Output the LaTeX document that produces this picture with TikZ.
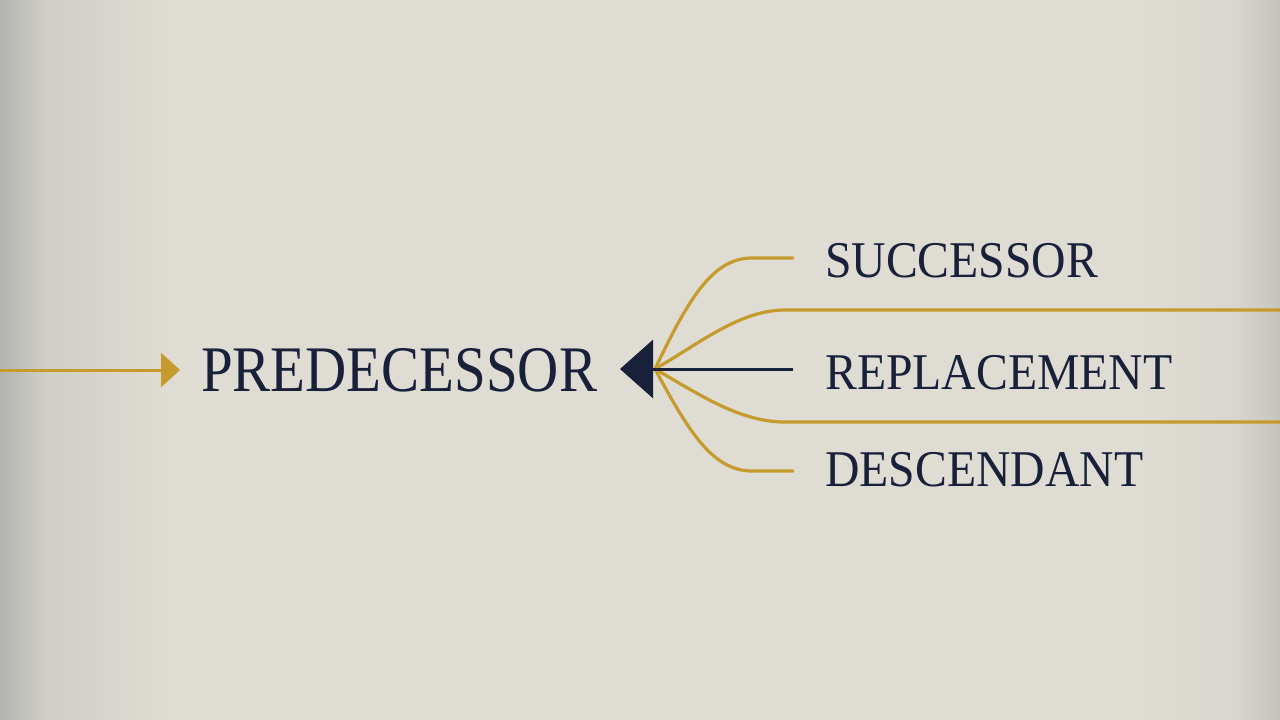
\documentclass[tikz,border=0pt]{standalone}
\usepackage{fontspec}
\setmainfont{Liberation Serif}
\usetikzlibrary{arrows.meta}
\definecolor{bgc}{HTML}{DFDCD3}
\definecolor{edgec}{HTML}{B3B4B0}
\definecolor{midl}{HTML}{CFCEC7}
\definecolor{edger}{HTML}{C4C3BD}
\definecolor{midr}{HTML}{D8D6CE}
\definecolor{goldc}{HTML}{C59B2E}
\definecolor{navyc}{HTML}{18203A}
\tikzset{
  goldline/.style={draw=goldc, line width=3.2pt, line cap=round},
  navyline/.style={draw=navyc, line width=3pt},
  bigword/.style={inner sep=0pt, anchor=base west, text=navyc, font=\fontsize{57}{57}\selectfont},
  word/.style={inner sep=0pt, anchor=base west, text=navyc, font=\fontsize{47.7}{47.7}\selectfont}
}
\begin{document}
\begin{tikzpicture}[x=1pt,y=-1pt]
  % background with soft edge vignette
  \fill[bgc] (0,0) rectangle (1280,720);
  \shade[left color=edgec, right color=midl] (0,0) rectangle (45,720);
  \shade[left color=midl, right color=bgc] (45,0) rectangle (170,720);
  \shade[left color=midr, right color=edger] (1235,0) rectangle (1280,720);
  \shade[left color=bgc, right color=midr] (1140,0) rectangle (1235,720);
  \useasboundingbox (0,0) rectangle (1280,720);

  % texts
  \node[bigword] (pred) at (201,391) {\scalebox{1}[1.14]{PREDECESSOR}};
  \node[word] (succ) at (825,277) {\scalebox{1}[1.08]{SUCCESSOR}};
  \node[word] (repl) at (825,389) {\scalebox{1}[1.08]{REPLACEMENT}};
  \node[word] (desc) at (825,486) {\scalebox{1}[1.08]{DESCENDANT}};

  % coordinates
  \coordinate (in) at (0,370);
  \coordinate (hub) at (655,369);
  \coordinate (tip) at (620,369);
  \coordinate (eS) at (793,258);
  \coordinate (eR) at (793,369);
  \coordinate (eD) at (793,471);
  \coordinate (eU) at (1282,310);
  \coordinate (eL) at (1282,422);

  % incoming arrow
  \draw[draw=goldc, line width=3pt, -{Triangle[length=19pt,width=34pt]}, fill=goldc]
    (in) -- ([xshift=-21pt]pred.west |- in);

  % branches
  \draw[goldline] (hub) .. controls (688,300) and (712,258) .. (752,258) -- (eS);
  \draw[goldline] (hub) .. controls (700,343) and (740,310) .. (785,310) -- (eU);
  \draw[goldline] (hub) .. controls (700,395) and (740,422) .. (785,422) -- (eL);
  \draw[goldline] (hub) .. controls (688,430) and (712,471) .. (752,471) -- (eD);

  % navy arrow into the triangle
  \draw[navyline, -{Triangle[length=33pt,width=58pt]}, fill=navyc] (eR) -- (tip);
\end{tikzpicture}
\end{document}
